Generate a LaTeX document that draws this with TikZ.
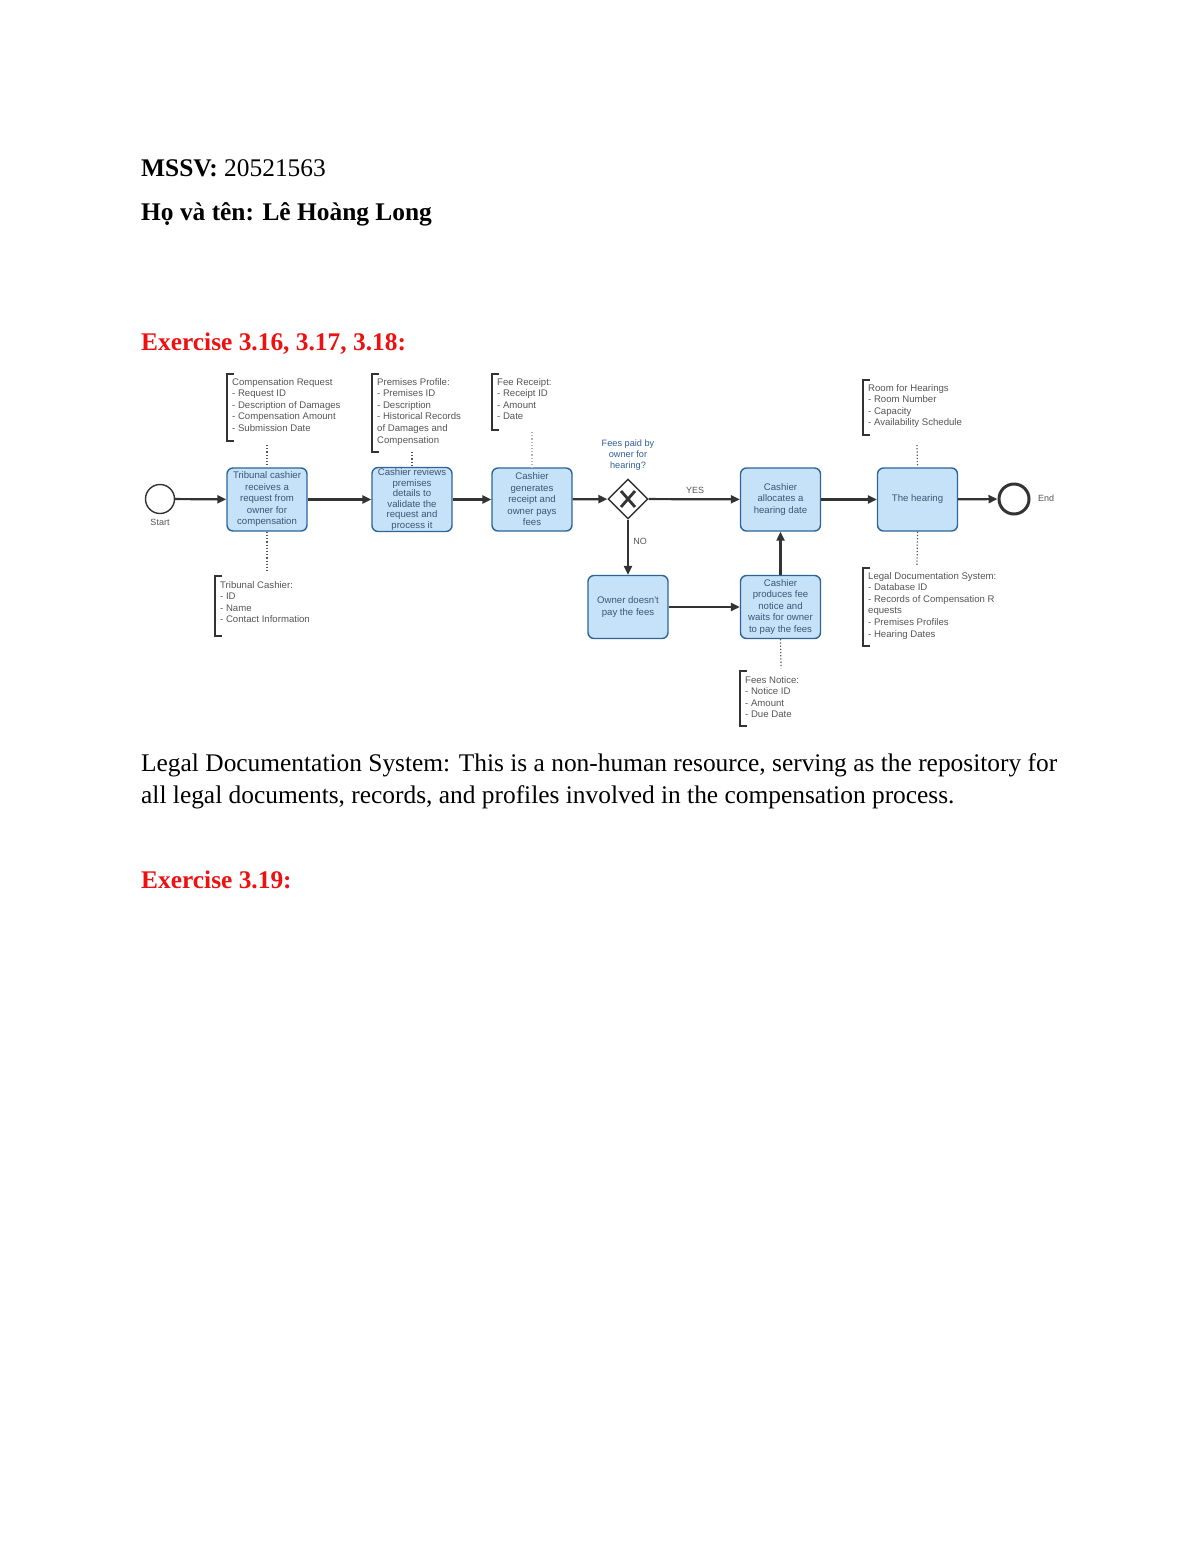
\documentclass[tikz,border=0pt]{standalone}
\usepackage{fontspec}
\setmainfont{Liberation Serif}
\newfontfamily\dsans{Liberation Sans}
\usetikzlibrary{shapes.geometric,arrows.meta}
\definecolor{taskfill}{HTML}{C6E2F8}
\definecolor{taskborder}{HTML}{2E6596}
\definecolor{tasktext}{HTML}{3A5673}
\definecolor{flowgray}{HTML}{333333}
\definecolor{annotgray}{HTML}{555555}
\definecolor{gwblue}{HTML}{2F5F9A}
\definecolor{exred}{HTML}{EE1111}
\tikzset{
  page/.style={font=\fontsize{25.4}{30}\selectfont, inner sep=0pt, anchor=base west},
  task/.style={draw=taskborder, fill=taskfill, rounded corners=6pt, line width=1.4pt,
    minimum width=80pt, minimum height=63pt, align=center,
    font=\dsans\fontsize{9.6}{11.5}\selectfont, text=tasktext, inner sep=1pt},
  flow/.style={draw=flowgray, line width=2.2pt, -{Triangle[length=9pt,width=8pt]}},
  assoc/.style={draw=annotgray, dotted, line width=1.2pt},
  annot/.style={anchor=north west, align=left, inner sep=0pt,
    font=\dsans\fontsize{9.6}{11.6}\selectfont, text=annotgray},
  bracketline/.style={draw=flowgray, line width=1.5pt},
  evt/.style={circle, draw=flowgray, fill=white, inner sep=0pt},
  lbl/.style={font=\dsans\fontsize{9}{10}\selectfont, text=annotgray, inner sep=0pt},
}
\begin{document}
\begin{tikzpicture}[x=1pt,y=-1pt]
\useasboundingbox (0,0) rectangle (1200,1553);
\fill[white] (0,0) rectangle (1200,1553);

% page text
\node[page] (mssv) at (141,176) {\textbf{MSSV:} 20521563};
\node[page] (hoten) at (141,220) {\textbf{Họ và tên: Lê Hoàng Long}};
\node[page, text=exred] (ex1) at (141,350) {\textbf{Exercise 3.16, 3.17, 3.18:}};
\node[page] (para1) at (141,771) {\makebox[916pt][s]{Legal Documentation System: This is a non-human resource, serving as the repository for}};
\node[page] (para2) at (141,803) {all legal documents, records, and profiles involved in the compensation process.};
\node[page, text=exred] (ex2) at (141,888) {\textbf{Exercise 3.19:}};

% events
\node[evt, minimum size=29pt, line width=1.4pt] (start) at (160,499) {};
\node[lbl, anchor=north] (startlbl) at (160,519) {Start};
\node[evt, minimum size=30pt, line width=3pt] (end) at (1014,499) {};
\node[lbl, anchor=west] (endlbl) at (1038,498) {End};

% tasks
\node[task] (t1) at (267,499.5) {Tribunal cashier\\receives a\\request from\\owner for\\compensation};
\node[task, font=\dsans\fontsize{9.6}{10.6}\selectfont] (t2) at (412,499.5) {Cashier reviews\\premises\\details to\\validate the\\request and\\process it};
\node[task] (t3) at (532,499.5) {Cashier\\generates\\receipt and\\owner pays\\fees};
\node[task] (t4) at (780.5,499.5) {Cashier\\allocates a\\hearing date};
\node[task] (t5) at (917.5,499.5) {The hearing};
\node[task] (t6) at (628,607) {Owner doesn't\\pay the fees};
\node[task] (t7) at (780.5,607) {Cashier\\produces fee\\notice and\\waits for owner\\to pay the fees};

% gateway
\node[diamond, draw=flowgray, fill=white, line width=1.4pt, minimum width=40pt, minimum height=40pt, inner sep=0pt] (gw) at (628,499) {};
\draw[flowgray, line width=2.8pt] ([shift={(-7,-8)}]gw.center) -- ([shift={(7,8)}]gw.center)
  ([shift={(7,-8)}]gw.center) -- ([shift={(-7,8)}]gw.center);
\node[lbl, text=gwblue, align=center, anchor=south, font=\dsans\fontsize{9.2}{11}\selectfont] (gwlbl) at (628,471) {Fees paid by\\owner for\\hearing?};
\node[lbl] (yes) at (695,490) {YES};
\node[lbl] (no) at (640,541) {NO};

% flows
\draw[flow] (start) -- (t1);
\draw[flow] (t1) -- (t2);
\draw[flow] (t2) -- (t3);
\draw[flow] (t3) -- (gw);
\draw[flow] (gw) -- (t4);
\draw[flow] (t4) -- (t5);
\draw[flow] (t5) -- (end);
\draw[flow] (gw) -- (t6);
\draw[flow] (t6) -- (t7);
\draw[flow] (t7) -- (t4);

% annotations
\node[annot] (a1) at (232,378) {Compensation Request\\- Request ID\\- Description of Damages\\- Compensation Amount\\- Submission Date};
\draw[bracketline] (234,374) -- (227,374) -- (227,441) -- (234,441);
\coordinate (a1c) at (267,445);
\draw[assoc] (a1c) -- (t1.north);

\node[annot] (a2) at (377,378) {Premises Profile:\\- Premises ID\\- Description\\- Historical Records\\of Damages and\\Compensation};
\draw[bracketline] (379,374) -- (372,374) -- (372,452) -- (379,452);
\coordinate (a2c) at (412,452);
\draw[assoc] (a2c) -- (t2.north);

\node[annot] (a3) at (497,378) {Fee Receipt:\\- Receipt ID\\- Amount\\- Date};
\draw[bracketline] (499,374) -- (492,374) -- (492,430) -- (499,430);
\coordinate (a3c) at (532,432);
\draw[assoc, draw=gray!60] (a3c) -- (t3.north);

\node[annot] (a4) at (868,384) {Room for Hearings\\- Room Number\\- Capacity\\- Availability Schedule};
\draw[bracketline] (870,380) -- (863,380) -- (863,435) -- (870,435);
\coordinate (a4c) at (917,445);
\draw[assoc] (a4c) -- (t5.north);

\node[annot] (a5) at (220,581) {Tribunal Cashier:\\- ID\\- Name\\- Contact Information};
\draw[bracketline] (222,576) -- (215,576) -- (215,636) -- (222,636);
\coordinate (a5c) at (267,572);
\draw[assoc] (t1.south) -- (a5c);

\node[annot] (a6) at (868,572) {Legal Documentation System:\\- Database ID\\- Records of Compensation R\\equests\\- Premises Profiles\\- Hearing Dates};
\draw[bracketline] (870,568) -- (863,568) -- (863,646) -- (870,646);
\coordinate (a6c) at (917,565);
\draw[assoc] (t5.south) -- (a6c);

\node[annot] (a7) at (745,676) {Fees Notice:\\- Notice ID\\- Amount\\- Due Date};
\draw[bracketline] (747,671) -- (740,671) -- (740,726) -- (747,726);
\coordinate (a7c) at (781,668);
\draw[assoc] (t7.south) -- (a7c);
\end{tikzpicture}
\end{document}
